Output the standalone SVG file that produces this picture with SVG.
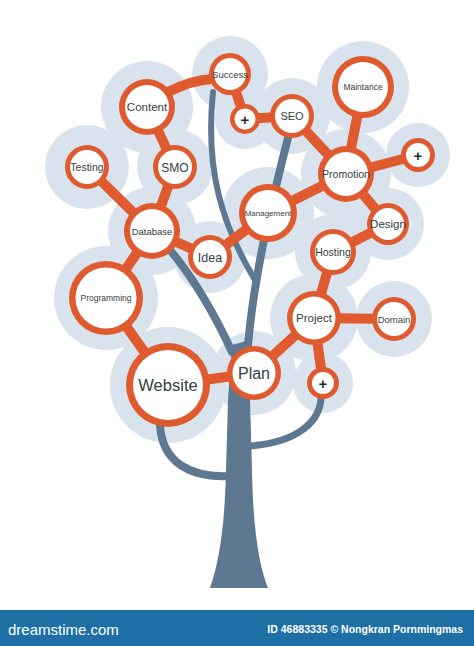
<svg xmlns="http://www.w3.org/2000/svg" width="474" height="646" viewBox="0 0 474 646">
<style>
.halo{fill:#d8e3ed}
.ring{fill:#e05a2f}
.core{fill:#ffffff}
.br{fill:none;stroke:#5e7891;stroke-linecap:round}
.link{fill:none;stroke:#e05a2f;stroke-width:10;stroke-linecap:round}
text{font-family:"Liberation Sans","DejaVu Sans",sans-serif;fill:#33403f;text-anchor:middle}
.plus{font-weight:bold;font-size:15px;fill:#1e2e2a}
</style>
<rect width="474" height="646" fill="#ffffff"/>
<g id="halos">
<circle class="halo" cx="230" cy="74" r="38"/>
<circle class="halo" cx="245" cy="119" r="30"/>
<circle class="halo" cx="292" cy="116" r="38"/>
<circle class="halo" cx="363" cy="87" r="46"/>
<circle class="halo" cx="346" cy="174" r="45"/>
<circle class="halo" cx="418" cy="155" r="32"/>
<circle class="halo" cx="268" cy="213" r="46"/>
<circle class="halo" cx="388" cy="224" r="36"/>
<circle class="halo" cx="333" cy="252" r="38"/>
<circle class="halo" cx="314" cy="318" r="44"/>
<circle class="halo" cx="394" cy="319" r="38"/>
<circle class="halo" cx="254" cy="373" r="42"/>
<circle class="halo" cx="323" cy="383" r="30"/>
<circle class="halo" cx="147" cy="107" r="46"/>
<circle class="halo" cx="87" cy="167" r="42"/>
<circle class="halo" cx="175" cy="167" r="38"/>
<circle class="halo" cx="152" cy="231" r="44"/>
<circle class="halo" cx="210" cy="257" r="36"/>
<circle class="halo" cx="106" cy="298" r="52"/>
<circle class="halo" cx="168" cy="385" r="58"/>
</g>
<g id="tree">
<path d="M210,588 L268,588 C257,560 253,520 252,470 L250,400 L250,340 L232,345 L228,400 L226,470 C225,520 220,560 210,588 Z" fill="#5e7891"/>
<path class="br" stroke-width="8" d="M232,352 C215,315 195,280 170,250"/>
<path class="br" stroke-width="8" d="M290,130 Q272,200 262,250 T248,345"/>
<path class="br" stroke-width="6" d="M213,92 C205,170 222,225 255,280"/>
<path class="br" stroke-width="8" d="M230,476 C190,478 162,462 160,425"/>
<path class="br" stroke-width="7" d="M250,446 C300,442 320,420 321,398"/>
</g>
<g id="connectors">
<path class="link" d="M168,92 Q192,80 212,79"/>
<path class="link" d="M230,74 L245,119"/>
<path class="link" d="M245,119 L292,116"/>
<path class="link" d="M292,116 L346,174"/>
<path class="link" d="M363,87 L346,174"/>
<path class="link" d="M346,174 L418,155"/>
<path class="link" d="M346,174 L388,224"/>
<path class="link" d="M346,174 L268,213"/>
<path class="link" d="M268,213 L210,257"/>
<path class="link" d="M210,257 L152,231"/>
<path class="link" d="M152,231 L175,167"/>
<path class="link" d="M175,167 L147,107"/>
<path class="link" d="M152,231 L87,167"/>
<path class="link" d="M152,231 L106,298"/>
<path class="link" d="M106,298 L168,385"/>
<path class="link" d="M168,385 L254,373"/>
<path class="link" d="M254,373 L314,318"/>
<path class="link" d="M314,318 L333,252"/>
<path class="link" d="M333,252 L388,224"/>
<path class="link" d="M314,318 L394,319"/>
<path class="link" d="M314,318 L323,383"/>
</g>
<g id="success"><circle class="ring" cx="230" cy="74" r="21"/><circle class="core" cx="230" cy="74" r="16"/><text x="230" y="78" font-size="9.5">Success</text></g>
<g id="plus-top"><circle class="ring" cx="245" cy="119" r="15"/><circle class="core" cx="245" cy="119" r="10.5"/><text class="plus" x="245" y="124.5">+</text></g>
<g id="seo"><circle class="ring" cx="292" cy="116" r="22"/><circle class="core" cx="292" cy="116" r="17"/><text x="292" y="120" font-size="11">SEO</text></g>
<g id="maintance"><circle class="ring" cx="363" cy="87" r="31"/><circle class="core" cx="363" cy="87" r="25"/><text x="363" y="90" font-size="8.5">Maintance</text></g>
<g id="promotion"><circle class="ring" cx="346" cy="174" r="28"/><circle class="core" cx="346" cy="174" r="22"/><text x="346" y="178" font-size="10.5">Promotion</text></g>
<g id="plus-right"><circle class="ring" cx="418" cy="155" r="17"/><circle class="core" cx="418" cy="155" r="12"/><text class="plus" x="418" y="160.5">+</text></g>
<g id="management"><circle class="ring" cx="268" cy="213" r="29"/><circle class="core" cx="268" cy="213" r="23"/><text x="268" y="216" font-size="8">Management</text></g>
<g id="design"><circle class="ring" cx="388" cy="224" r="21"/><circle class="core" cx="388" cy="224" r="16"/><text x="388" y="228" font-size="11.5">Design</text></g>
<g id="hosting"><circle class="ring" cx="333" cy="252" r="23"/><circle class="core" cx="333" cy="252" r="18"/><text x="333" y="256" font-size="10.5">Hosting</text></g>
<g id="project"><circle class="ring" cx="314" cy="318" r="27"/><circle class="core" cx="314" cy="318" r="21.5"/><text x="314" y="322" font-size="11.5">Project</text></g>
<g id="domain"><circle class="ring" cx="394" cy="319" r="22"/><circle class="core" cx="394" cy="319" r="17"/><text x="394" y="323" font-size="9.5">Domain</text></g>
<g id="plan"><circle class="ring" cx="254" cy="373" r="27"/><circle class="core" cx="254" cy="373" r="21.5"/><text x="254" y="379" font-size="16">Plan</text></g>
<g id="plus-bottom"><circle class="ring" cx="323" cy="383" r="16"/><circle class="core" cx="323" cy="383" r="11"/><text class="plus" x="323" y="388.5">+</text></g>
<g id="content"><circle class="ring" cx="147" cy="107" r="28"/><circle class="core" cx="147" cy="107" r="22"/><text x="147" y="111" font-size="11.5">Content</text></g>
<g id="testing"><circle class="ring" cx="87" cy="167" r="22"/><circle class="core" cx="87" cy="167" r="17"/><text x="87" y="171" font-size="10.5">Testing</text></g>
<g id="smo"><circle class="ring" cx="175" cy="167" r="22"/><circle class="core" cx="175" cy="167" r="17"/><text x="175" y="171.5" font-size="12">SMO</text></g>
<g id="database"><circle class="ring" cx="152" cy="231" r="28"/><circle class="core" cx="152" cy="231" r="22"/><text x="152" y="234.5" font-size="9.5">Database</text></g>
<g id="idea"><circle class="ring" cx="210" cy="257" r="22"/><circle class="core" cx="210" cy="257" r="17"/><text x="210" y="261.5" font-size="12.5">Idea</text></g>
<g id="programming"><circle class="ring" cx="106" cy="298" r="37"/><circle class="core" cx="106" cy="298" r="30.5"/><text x="106" y="301" font-size="8.5">Programming</text></g>
<g id="website"><circle class="ring" cx="168" cy="385" r="42"/><circle class="core" cx="168" cy="385" r="35"/><text x="168" y="391" font-size="16.5">Website</text></g>
<g id="footer">
<rect x="0" y="610" width="474" height="36" fill="#1d6fa5"/>
<text x="8" y="635" font-size="15" style="text-anchor:start;fill:#ffffff">dreamstime.com</text>
<text x="463" y="632.5" font-size="10.5" font-weight="bold" style="text-anchor:end;fill:#ffffff">ID 46883335 © Nongkran Pornmingmas</text>
</g>
</svg>
